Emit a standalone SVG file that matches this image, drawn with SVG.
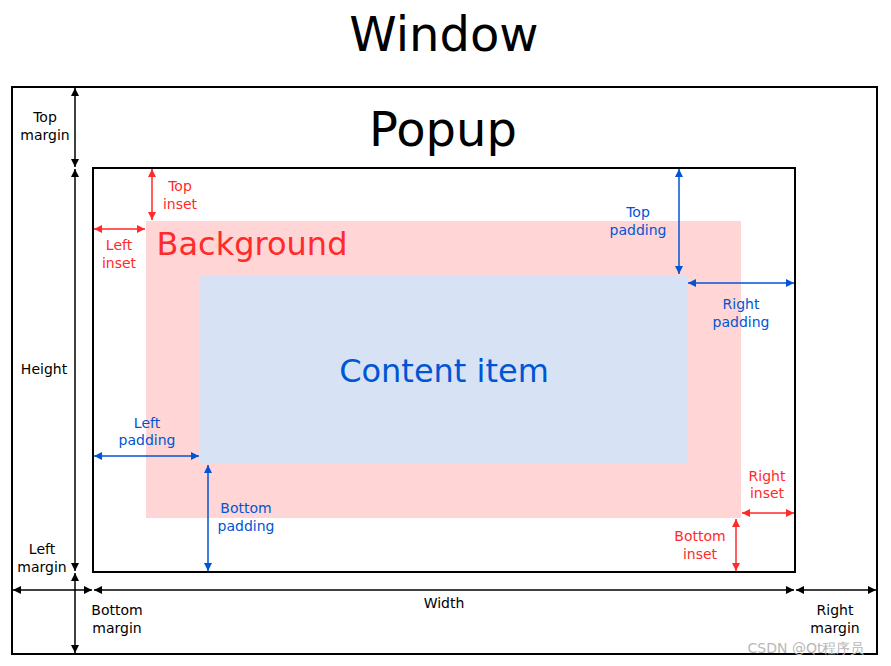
<svg xmlns="http://www.w3.org/2000/svg" width="891" height="666" viewBox="0 0 891 666">
<style>
text{font-family:"DejaVu Sans",sans-serif;text-anchor:middle}
.s{font-size:14px}
.k{stroke:#000;stroke-width:1.5}
.r{stroke:#ff2a2a;stroke-width:1.5}
.b{stroke:#0055d4;stroke-width:1.5}
.box{fill:none;stroke:#000;stroke-width:2}
</style>
<defs>
<marker id="mk" viewBox="0 0 10 10" refX="10" refY="5" markerWidth="8" markerHeight="8" markerUnits="userSpaceOnUse" orient="auto-start-reverse"><path d="M0,0L10,5L0,10z" fill="#000"/></marker>
<marker id="mr" viewBox="0 0 10 10" refX="10" refY="5" markerWidth="8" markerHeight="8" markerUnits="userSpaceOnUse" orient="auto-start-reverse"><path d="M0,0L10,5L0,10z" fill="#ff2a2a"/></marker>
<marker id="mb" viewBox="0 0 10 10" refX="10" refY="5" markerWidth="8" markerHeight="8" markerUnits="userSpaceOnUse" orient="auto-start-reverse"><path d="M0,0L10,5L0,10z" fill="#0055d4"/></marker>
</defs>
<rect width="891" height="666" fill="#fff"/>
<g id="window"><rect class="box" x="12" y="87" width="865" height="567"/><text x="444" y="51" font-size="48">Window</text></g>
<g id="popup"><rect class="box" x="93" y="168" width="702" height="404"/><text x="443" y="146" font-size="48">Popup</text></g>
<g id="background"><rect x="146" y="221" width="595" height="297" fill="#ffd5d5"/><text x="252" y="255" font-size="32" fill="#ff2a2a">Background</text></g>
<g id="content"><rect x="200" y="275" width="487" height="189" fill="#d7e3f4"/><text x="444" y="382" font-size="32" fill="#0055d4">Content item</text></g>
<g id="connectors" fill="none">
<line class="k" x1="75" y1="88" x2="75" y2="167" marker-start="url(#mk)" marker-end="url(#mk)"/>
<line class="k" x1="75" y1="169" x2="75" y2="571" marker-start="url(#mk)" marker-end="url(#mk)"/>
<line class="k" x1="75" y1="573" x2="75" y2="653" marker-start="url(#mk)" marker-end="url(#mk)"/>
<line class="k" x1="13" y1="590" x2="92" y2="590" marker-start="url(#mk)" marker-end="url(#mk)"/>
<line class="k" x1="94" y1="590" x2="794" y2="590" marker-start="url(#mk)" marker-end="url(#mk)"/>
<line class="k" x1="796" y1="590" x2="876" y2="590" marker-start="url(#mk)" marker-end="url(#mk)"/>
<line class="r" x1="152" y1="169" x2="152" y2="220" marker-start="url(#mr)" marker-end="url(#mr)"/>
<line class="r" x1="94" y1="229" x2="145" y2="229" marker-start="url(#mr)" marker-end="url(#mr)"/>
<line class="r" x1="742" y1="513" x2="794" y2="513" marker-start="url(#mr)" marker-end="url(#mr)"/>
<line class="r" x1="736" y1="519" x2="736" y2="571" marker-start="url(#mr)" marker-end="url(#mr)"/>
<line class="b" x1="679" y1="169" x2="679" y2="274" marker-start="url(#mb)" marker-end="url(#mb)"/>
<line class="b" x1="688" y1="283" x2="794" y2="283" marker-start="url(#mb)" marker-end="url(#mb)"/>
<line class="b" x1="94" y1="456" x2="199" y2="456" marker-start="url(#mb)" marker-end="url(#mb)"/>
<line class="b" x1="208" y1="465" x2="208" y2="571" marker-start="url(#mb)" marker-end="url(#mb)"/>
</g>
<g id="labels" class="s">
<text x="45" y="122">Top</text><text x="45" y="140">margin</text>
<text x="44" y="374">Height</text>
<text x="42" y="554">Left</text><text x="42" y="572">margin</text>
<text x="117" y="615">Bottom</text><text x="117" y="633">margin</text>
<text x="444" y="608">Width</text>
<text x="835" y="615">Right</text><text x="835" y="633">margin</text>
<g fill="#ff2a2a"><text x="180" y="191">Top</text><text x="180" y="209">inset</text>
<text x="119" y="250">Left</text><text x="119" y="268">inset</text>
<text x="767" y="481">Right</text><text x="767" y="498">inset</text>
<text x="700" y="541">Bottom</text><text x="700" y="559">inset</text></g>
<g fill="#0055d4"><text x="638" y="217">Top</text><text x="638" y="235">padding</text>
<text x="741" y="309">Right</text><text x="741" y="327">padding</text>
<text x="147" y="428">Left</text><text x="147" y="445">padding</text>
<text x="246" y="513">Bottom</text><text x="246" y="531">padding</text></g>
<text x="806" y="653" fill="#b8b8b8" font-family="'DejaVu Sans','Noto Sans CJK SC',sans-serif">CSDN @Qt程序员</text>
</g>
</svg>
